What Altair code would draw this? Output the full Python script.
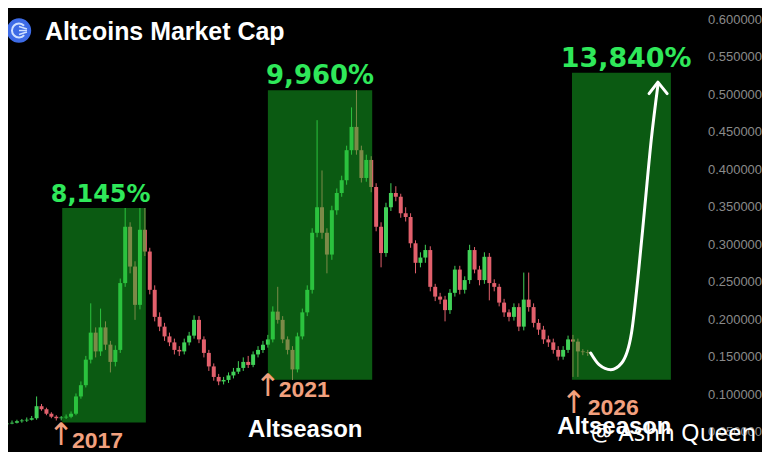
import altair as alt
import pandas as pd

# ---- candle data (Altcoins market cap) ----
first_open = 0.061
closes = [0.062, 0.063, 0.065, 0.066, 0.067, 0.069, 0.085, 0.081, 0.075, 0.071,
          0.069, 0.070, 0.071, 0.075, 0.098, 0.113, 0.147, 0.183, 0.158, 0.190,
          0.167, 0.144, 0.160, 0.249, 0.324, 0.271, 0.220, 0.320, 0.291, 0.240,
          0.204, 0.191, 0.178, 0.170, 0.160, 0.158, 0.170, 0.179, 0.200, 0.174,
          0.156, 0.138, 0.124, 0.118, 0.120, 0.126, 0.131, 0.136, 0.144, 0.140,
          0.154, 0.160, 0.167, 0.174, 0.211, 0.200, 0.174, 0.160, 0.134, 0.178,
          0.210, 0.240, 0.316, 0.350, 0.316, 0.287, 0.346, 0.369, 0.386, 0.426,
          0.457, 0.426, 0.389, 0.413, 0.377, 0.324, 0.289, 0.350, 0.369, 0.364,
          0.342, 0.337, 0.302, 0.276, 0.283, 0.293, 0.244, 0.231, 0.227, 0.213,
          0.236, 0.267, 0.240, 0.253, 0.293, 0.267, 0.253, 0.284, 0.249, 0.244,
          0.223, 0.210, 0.204, 0.217, 0.191, 0.227, 0.217, 0.196, 0.187, 0.174,
          0.170, 0.160, 0.151, 0.160, 0.174, 0.171, 0.158, 0.157, 0.156]
highs = [0.064, 0.066, 0.067, 0.068, 0.070, 0.072, 0.098, 0.088, 0.083, 0.077,
         0.073, 0.072, 0.074, 0.078, 0.102, 0.118, 0.152, 0.222, 0.190, 0.215,
         0.198, 0.172, 0.166, 0.255, 0.349, 0.330, 0.278, 0.349, 0.349, 0.296,
         0.246, 0.210, 0.196, 0.183, 0.175, 0.165, 0.175, 0.184, 0.206, 0.205,
         0.178, 0.160, 0.142, 0.128, 0.124, 0.130, 0.136, 0.145, 0.150, 0.152,
         0.158, 0.165, 0.172, 0.180, 0.218, 0.244, 0.205, 0.178, 0.165, 0.183,
         0.215, 0.246, 0.322, 0.466, 0.399, 0.322, 0.352, 0.375, 0.392, 0.432,
         0.483, 0.506, 0.432, 0.420, 0.418, 0.382, 0.330, 0.356, 0.382, 0.378,
         0.368, 0.350, 0.342, 0.306, 0.290, 0.300, 0.298, 0.248, 0.236, 0.232,
         0.241, 0.272, 0.272, 0.258, 0.300, 0.297, 0.272, 0.290, 0.289, 0.254,
         0.248, 0.228, 0.214, 0.222, 0.222, 0.263, 0.263, 0.222, 0.201, 0.192,
         0.179, 0.175, 0.165, 0.165, 0.179, 0.180, 0.175, 0.161, 0.160]
lows = [0.059, 0.061, 0.062, 0.063, 0.064, 0.066, 0.067, 0.079, 0.073, 0.069,
        0.066, 0.066, 0.068, 0.069, 0.073, 0.095, 0.110, 0.142, 0.150, 0.152,
        0.160, 0.130, 0.138, 0.156, 0.244, 0.262, 0.200, 0.214, 0.285, 0.234,
        0.198, 0.185, 0.172, 0.165, 0.154, 0.152, 0.154, 0.166, 0.175, 0.169,
        0.150, 0.132, 0.119, 0.113, 0.114, 0.116, 0.122, 0.128, 0.132, 0.136,
        0.137, 0.150, 0.156, 0.163, 0.170, 0.195, 0.169, 0.154, 0.120, 0.130,
        0.174, 0.205, 0.235, 0.310, 0.308, 0.262, 0.280, 0.340, 0.364, 0.380,
        0.420, 0.420, 0.383, 0.384, 0.370, 0.318, 0.270, 0.284, 0.345, 0.358,
        0.336, 0.331, 0.296, 0.262, 0.270, 0.276, 0.238, 0.225, 0.221, 0.198,
        0.208, 0.231, 0.234, 0.235, 0.248, 0.262, 0.246, 0.248, 0.226, 0.238,
        0.218, 0.204, 0.198, 0.199, 0.185, 0.186, 0.211, 0.190, 0.180, 0.168,
        0.164, 0.155, 0.146, 0.147, 0.156, 0.124, 0.124, 0.153, 0.152]

# ---- highlighted altseason windows ----
box_start = [11.2, 53.0, 114.8]
box_end = [28.2, 74.2, 134.9]
box_low = [0.0633, 0.1204, 0.1204]
box_high = [0.3489, 0.5057, 0.5292]

pct_labels = ["8,145%", "9,960%", "13,840%"]
pct_x = [19.0, 63.6, 125.8]
pct_y = [0.3569, 0.5137, 0.5362]

year_labels = ["2017", "2021", "2026"]
year_x = [13.2, 55.2, 118.0]
year_y = [0.0288, 0.0973, 0.0739]
arrow_x = [11.0, 53.0, 115.2]
arrow_y = [0.0328, 0.0992, 0.0766]

season_x = [60.6, 123.4]
season_y = [0.0434, 0.0474]

# projected path (white arrow)
proj_x = [118.6, 120.3, 122.7, 124.9, 126.9, 128.3, 129.6, 130.9, 132.3]
proj_y = [0.1559, 0.1404, 0.1337, 0.1426, 0.1829, 0.2626, 0.3507, 0.4393, 0.5146]
head_x = [130.46, 132.26, 134.14]
head_y = [0.5013, 0.5167, 0.5013]

y_ticks = [0.05, 0.10, 0.15, 0.20, 0.25, 0.30, 0.35, 0.40, 0.45, 0.50, 0.55, 0.60]

# ---- tables ----
opens = [first_open] + closes[:-1]
candles = pd.DataFrame({
    "i": list(range(len(closes))), "open": opens, "close": closes,
    "high": highs, "low": lows,
    "dir": ["up" if c >= o else "down" for o, c in zip(opens, closes)],
})
boxes = pd.DataFrame({"x0": box_start, "x1": box_end, "lo": box_low, "hi": box_high})
proj = pd.DataFrame({"i": proj_x, "v": proj_y, "k": list(range(len(proj_x)))})
head = pd.DataFrame({"i": head_x, "v": head_y, "k": list(range(len(head_x)))})
ticks = pd.DataFrame({"v": y_ticks})

W, H = 756, 444
xs = alt.Scale(domain=[1.2, 152.4], nice=False, zero=False)
ys = alt.Scale(domain=[0.0248, 0.6146], nice=False, zero=False)

GREEN = "#41d158"
RED = "#e2606c"
col = alt.Color("dir:N", scale=alt.Scale(domain=["up", "down"], range=[GREEN, RED]), legend=None)

wicks = alt.Chart(candles).mark_rule(strokeWidth=1).encode(
    x=alt.X("i:Q", scale=xs, axis=None),
    y=alt.Y("low:Q", scale=ys, axis=None), y2="high:Q", color=col)
bodies = alt.Chart(candles).mark_bar(size=4).encode(
    x=alt.X("i:Q", scale=xs, axis=None),
    y=alt.Y("open:Q", scale=ys, axis=None), y2="close:Q", color=col)

rects = alt.Chart(boxes).mark_rect(color="#16b424", opacity=0.5).encode(
    x=alt.X("x0:Q", scale=xs, axis=None), x2="x1:Q",
    y=alt.Y("lo:Q", scale=ys, axis=None), y2="hi:Q")

layers = [wicks, bodies, rects]

pct_sizes = [24, 26, 27]
for lab, px, py, fs in zip(pct_labels, pct_x, pct_y, pct_sizes):
    d = pd.DataFrame({"i": [px], "v": [py], "t": [lab]})
    layers.append(alt.Chart(d).mark_text(
        font="DejaVu Sans", fontWeight="bold", fontSize=fs, color="#2fe85a",
        align="center", baseline="alphabetic").encode(
        x=alt.X("i:Q", scale=xs, axis=None), y=alt.Y("v:Q", scale=ys, axis=None), text="t:N"))

proj_line = alt.Chart(proj).mark_line(color="white", strokeWidth=3, interpolate="monotone",
                                      strokeCap="round").encode(
    x=alt.X("i:Q", scale=xs, axis=None), y=alt.Y("v:Q", scale=ys, axis=None), order="k:Q")
head_line = alt.Chart(head).mark_line(color="white", strokeWidth=3, strokeCap="round",
                                      strokeJoin="round").encode(
    x=alt.X("i:Q", scale=xs, axis=None), y=alt.Y("v:Q", scale=ys, axis=None), order="k:Q")
layers += [proj_line, head_line]

arrows = pd.DataFrame({"i": arrow_x, "v": arrow_y, "t": ["\u2191"] * 3})
layers.append(alt.Chart(arrows).mark_text(
    font="DejaVu Sans", fontSize=31, color="#f2a07e", align="center", baseline="alphabetic").encode(
    x=alt.X("i:Q", scale=xs, axis=None), y=alt.Y("v:Q", scale=ys, axis=None), text="t:N"))
years = pd.DataFrame({"i": year_x, "v": year_y, "t": year_labels})
layers.append(alt.Chart(years).mark_text(
    font="Liberation Sans", fontWeight="bold", fontSize=23, color="#f2a07e",
    align="left", baseline="alphabetic").encode(
    x=alt.X("i:Q", scale=xs, axis=None), y=alt.Y("v:Q", scale=ys, axis=None), text="t:N"))
seasons = pd.DataFrame({"i": season_x, "v": season_y, "t": ["Altseason"] * 2})
layers.append(alt.Chart(seasons).mark_text(
    font="Liberation Sans", fontWeight="bold", fontSize=24, color="white",
    align="center", baseline="alphabetic").encode(
    x=alt.X("i:Q", scale=xs, axis=None), y=alt.Y("v:Q", scale=ys, axis=None), text="t:N"))

# y-axis labels on the right
layers.append(alt.Chart(ticks).mark_text(
    font="Liberation Sans", fontSize=13, color="#8a8a8a", align="right", baseline="middle").encode(
    x=alt.value(W), y=alt.Y("v:Q", scale=ys, axis=None), text=alt.Text("v:Q", format=".6f")))

# watermark
wm = pd.DataFrame({"i": [118.6], "v": [0.0381], "t": ["@ Ashh Queen"]})
layers.append(alt.Chart(wm).mark_text(
    font="Noto Sans", fontSize=24, color="white", align="left", baseline="alphabetic").encode(
    x=alt.X("i:Q", scale=xs, axis=None), y=alt.Y("v:Q", scale=ys, axis=None), text="t:N"))

# title with icon
one = pd.DataFrame({"t": ["Altcoins Market Cap"]})
layers.append(alt.Chart(one).mark_point(filled=True, size=600, color="#3d6be6", opacity=1).encode(
    x=alt.value(11), y=alt.value(22)))
layers.append(alt.Chart(one).mark_arc(radius=8, radius2=6, theta=2.3, theta2=7.1, color="#cfe0ff").encode(
    x=alt.value(11), y=alt.value(22)))
for ya, yb in [(18, 20.5), (22, 22), (26, 23.5)]:
    layers.append(alt.Chart(one).mark_rule(color="#cfe0ff", strokeWidth=1.5).encode(
        x=alt.value(11), x2=alt.value(19), y=alt.value(ya), y2=alt.value(yb)))
layers.append(alt.Chart(one).mark_text(
    font="Liberation Sans", fontWeight="bold", fontSize=25, color="white",
    align="left", baseline="alphabetic").encode(
    x=alt.value(37), y=alt.value(31), text="t:N"))

chart = alt.layer(*layers).properties(
    width=W, height=H, background="black", padding=0,
    autosize=alt.AutoSizeParams(type="none"),
).configure_view(stroke=None)

chart.save("out.html", embed_options={"renderer": "svg", "actions": False})
